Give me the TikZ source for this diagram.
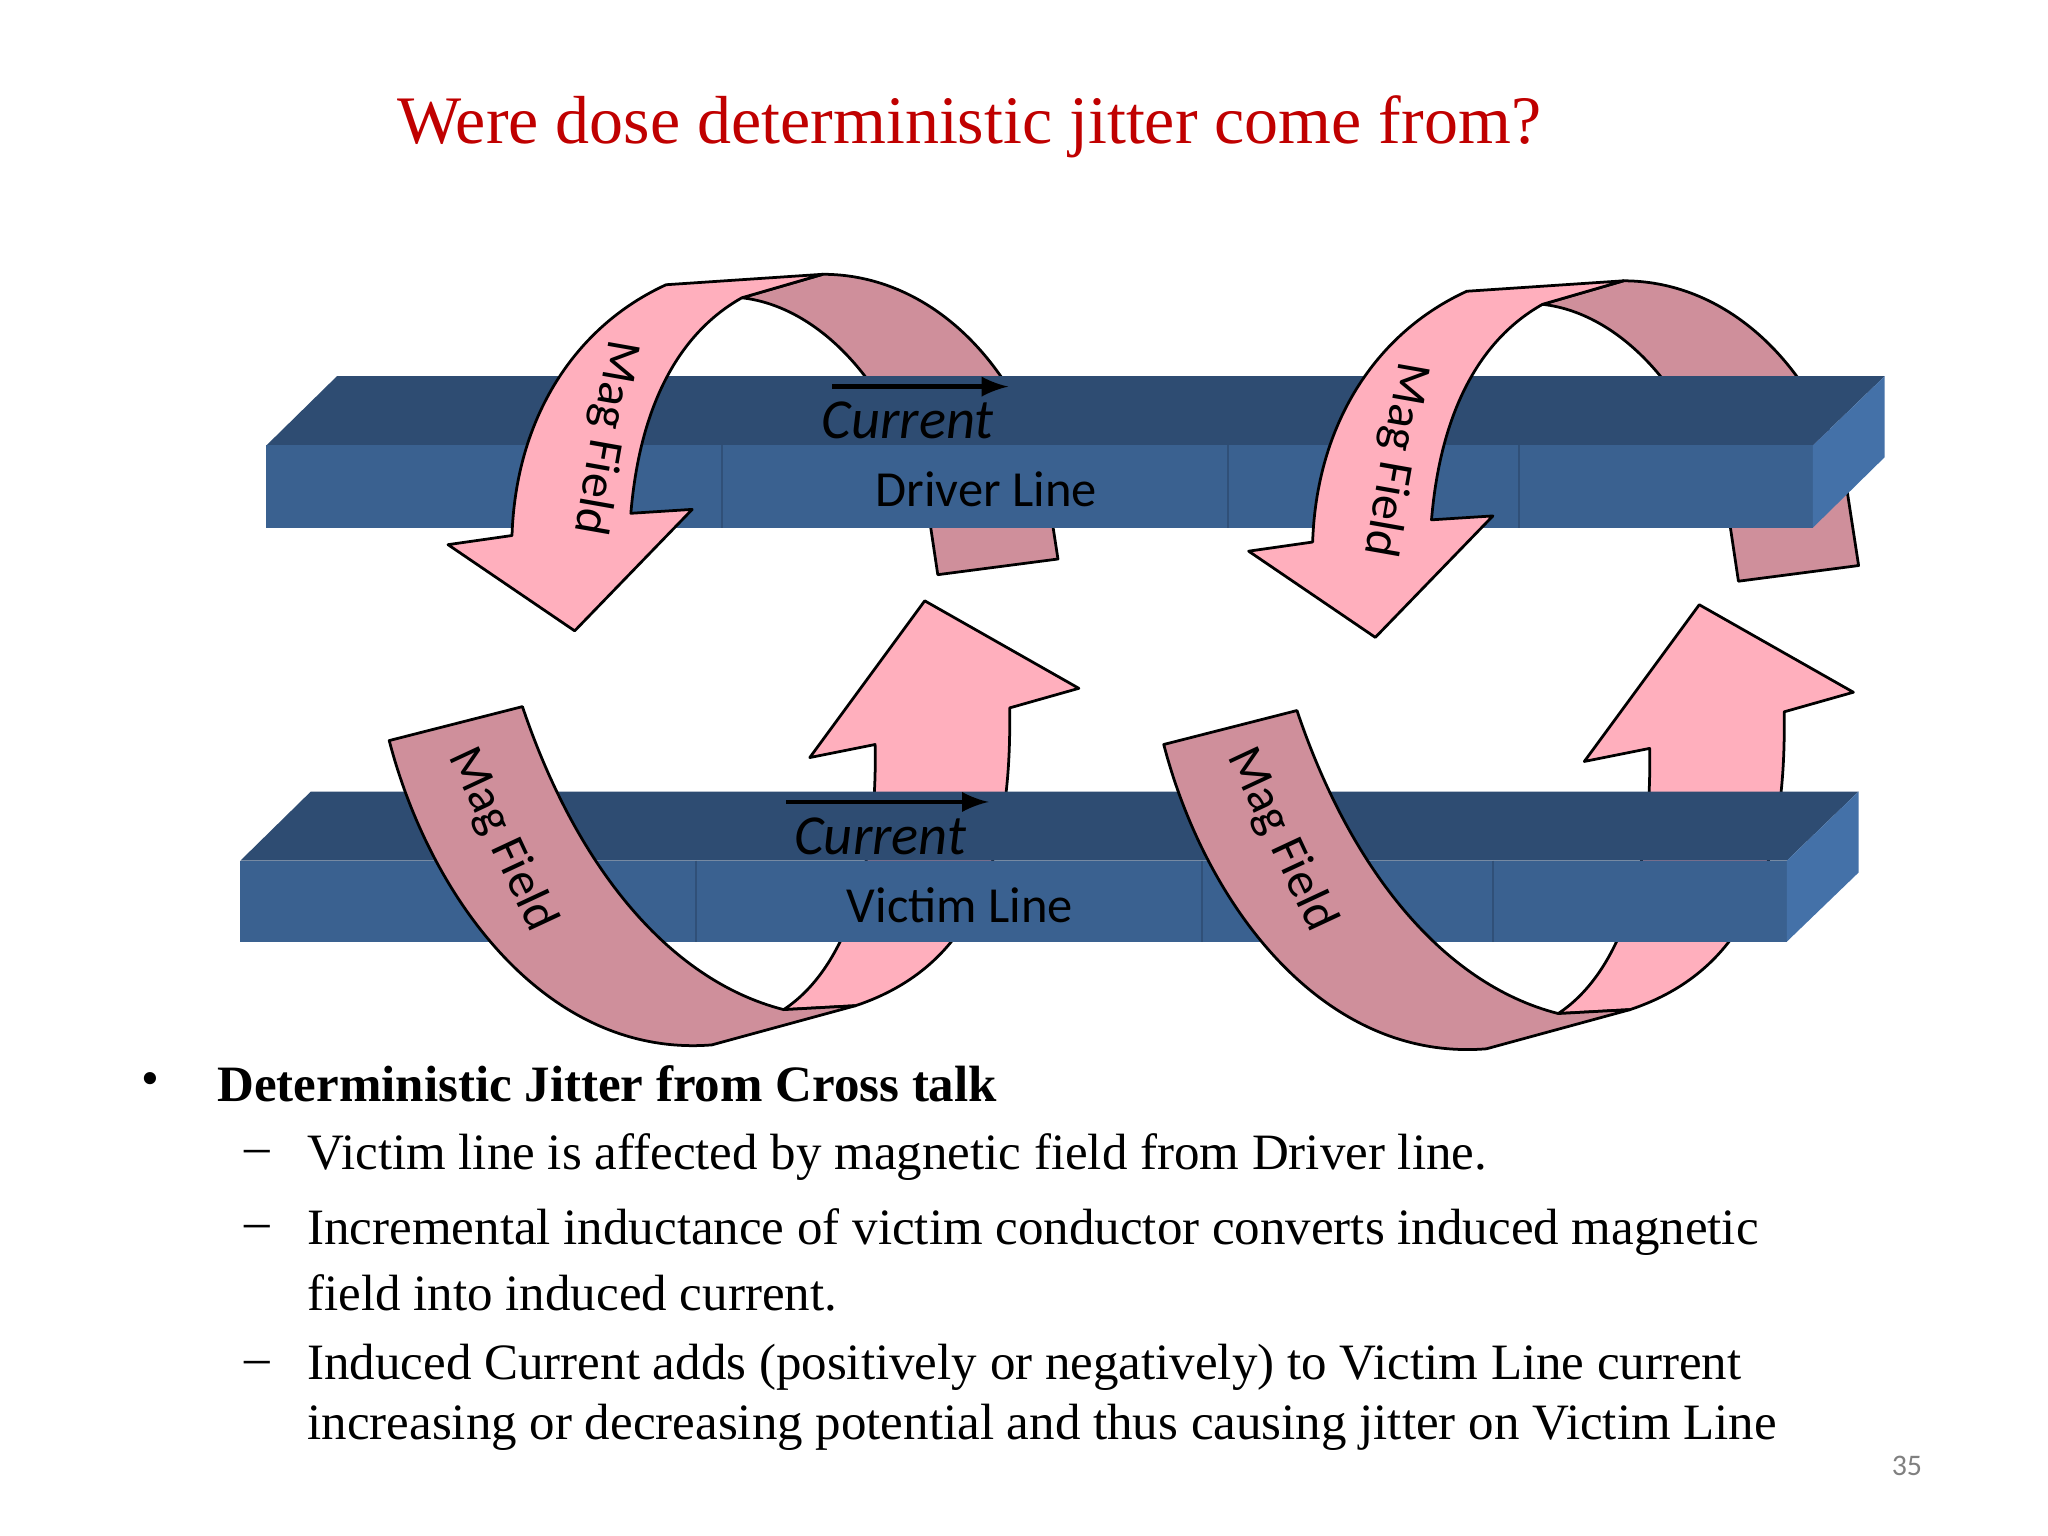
\documentclass[tikz,border=0pt]{standalone}
\usepackage{fontspec}
\setmainfont{Liberation Serif}
\newfontfamily\calfont{Carlito}
\begin{document}
\begin{tikzpicture}[x=0.01cm,y=-0.01cm,
  top/.style={fill=topc},front/.style={fill=frontc},side/.style={fill=sidec},
  dark/.style={fill=darkp,draw=black,line width=0.6pt,line join=round},
  light/.style={fill=lightp,draw=black,line width=0.6pt,line join=round},
  lab/.style={font=\calfont\fontsize{11}{13}\selectfont},
  cur/.style={font=\calfont\itshape\fontsize{12.3}{14}\selectfont},
  mag/.style={font=\calfont\fontsize{10.8}{12}\selectfont,inner sep=0pt},
  txt/.style={anchor=west,font=\fontsize{11.1}{13}\selectfont}]
\definecolor{topc}{HTML}{2E4C72}\definecolor{frontc}{HTML}{3A6190}
\definecolor{sidec}{HTML}{4471A8}\definecolor{darkp}{HTML}{CF8F9B}
\definecolor{lightp}{HTML}{FFAFBD}\definecolor{titlec}{HTML}{C00000}
\useasboundingbox (0,0) rectangle (1568,1176);
\fill[white] (0,0) rectangle (1568,1176);
\node[font=\fontsize{14.8}{16}\selectfont,text=titlec] (title) at (742,97) {Were dose deterministic jitter come from?};
% upper loops: back dark ribbons
\foreach \dx/\dy in {0/0,613/5}{
\begin{scope}[shift={(\dx,\dy)}]
\draw[dark] (630,210) .. controls (700,210) and (765,260) .. (798,350) -- (810,428) -- (718,440) -- (712,400) .. controls (690,300) and (630,235) .. (568,228) -- cycle;
\end{scope}}
% lower loops: light ribbons behind victim bar
\foreach \dx/\dy in {0/0,593/3}{
\begin{scope}[shift={(\dx,\dy)}]
\draw[light] (655,770) .. controls (745,740) and (775,660) .. (773,542) -- (826,527) -- (708,460) -- (620,580) -- (670,570) .. controls (672,660) and (650,740) .. (600,773) -- cycle;
\end{scope}}
% driver bar
\path[top] (204,341) -- (258,288) -- (1443,288) -- (1388,341) -- cycle;
\path[front] (204,341) rectangle (1388,404);
\path[side] (1388,341) -- (1443,288) -- (1443,350) -- (1388,404) -- cycle;
% victim bar
\path[top] (184,659) -- (238,606) -- (1423,606) -- (1368,659) -- cycle;
\path[front] (184,659) rectangle (1368,721);
\path[side] (1368,659) -- (1423,606) -- (1423,668) -- (1368,721) -- cycle;
\foreach \x in {553,940,1163}{\draw[topc!80!frontc,line width=0.4pt] (\x,341) -- (\x,404); \draw[topc!80!frontc,line width=0.4pt] (\x-20,659) -- (\x-20,721);}
% upper front light ribbons
\foreach \dx/\dy in {0/0,613/5}{
\begin{scope}[shift={(\dx,\dy)}]
\draw[light] (630,210) -- (510,218) .. controls (440,250) and (395,320) .. (392,410) -- (343,417) -- (440,483) -- (530,390) -- (483,393) .. controls (490,310) and (520,255) .. (568,228) -- cycle;
\end{scope}}
% lower front dark ribbons
\foreach \dx/\dy in {0/0,593/3}{
\begin{scope}[shift={(\dx,\dy)}]
\draw[dark] (298,567) -- (400,541) .. controls (440,660) and (510,750) .. (600,773) -- (655,770) -- (545,800) .. controls (420,810) and (330,690) .. (298,567) -- cycle;
\end{scope}}
\node[mag,rotate=-100] (m1) at (463,335) {Mag Field};
\node[mag,rotate=-100] (m2) at (1068,352) {Mag Field};
\node[mag,rotate=-65] (m3) at (384,643) {Mag Field};
\node[mag,rotate=-65] (m4) at (981,643) {Mag Field};
% labels
\coordinate (a1) at (637,296); \coordinate (b1) at (772,296);
\draw[-latex,line width=1pt] (a1) -- (b1);
\node[cur] (c1) at (695,322) {Current};
\node[lab] (dl) at (755,375) {Driver Line};
\coordinate (a2) at (602,614); \coordinate (b2) at (757,614);
\draw[-latex,line width=1pt] (a2) -- (b2);
\node[cur] (c2) at (674,640) {Current};
\node[lab] (vl) at (735,693) {Victim Line};
% text
\node[font=\fontsize{11.1}{13}\selectfont] (bul) at (115,830) {•};
\node[txt,font=\bfseries\fontsize{11.1}{13}\selectfont] (t0) at (154,830) {Deterministic Jitter from Cross talk};
\foreach \y in {886,943,1047}{\node[font=\fontsize{11.1}{13}\selectfont] at (197,\y) {–};}
\node[txt] (t1) at (223,886) {Victim line is affected by magnetic field from Driver line.};
\node[txt] (t2) at (223,943) {Incremental inductance of victim conductor converts induced magnetic};
\node[txt] (t3) at (223,990) {field into induced current.};
\node[txt] (t4) at (223,1047) {Induced Current adds (positively or negatively) to Victim Line current};
\node[txt] (t5) at (223,1093) {increasing or decreasing potential and thus causing jitter on Victim Line};
\node[font=\calfont\fontsize{6.5}{8}\selectfont,text=gray] (pg) at (1460,1122) {35};
\end{tikzpicture}
\end{document}
